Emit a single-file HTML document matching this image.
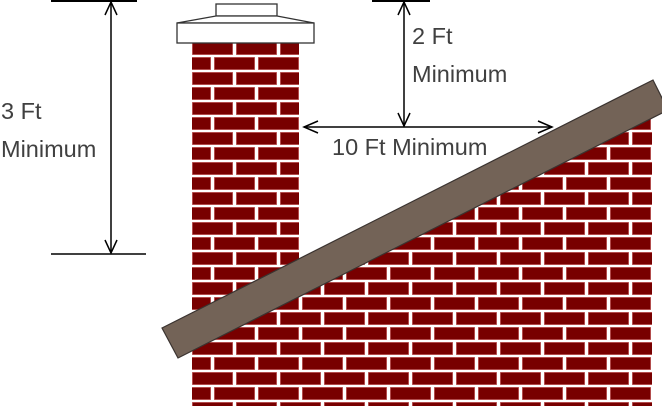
<!DOCTYPE html>
<html><head><style>
html,body{margin:0;padding:0;background:#fff;}
svg{display:block;}
text{font-family:"Liberation Sans",sans-serif;font-size:23.5px;fill:#404040;}
</style></head><body>
<svg width="662" height="406" viewBox="0 0 662 406" xmlns="http://www.w3.org/2000/svg">
<defs>
<pattern id="brick" x="192" y="42" width="44" height="30" patternUnits="userSpaceOnUse">
<rect width="44" height="30" fill="#fff"/>
<rect x="0.5" y="0.5" width="40" height="12" fill="#780000" stroke="#b04040" stroke-width="0.8"/>
<rect x="-21.5" y="15.5" width="40" height="12" fill="#780000" stroke="#b04040" stroke-width="0.8"/>
<rect x="22.5" y="15.5" width="40" height="12" fill="#780000" stroke="#b04040" stroke-width="0.8"/>
</pattern>
</defs>
<polygon points="192,42 299,42 299,262 652,84 652,406 192,406" fill="url(#brick)"/>
<rect x="216" y="4" width="61" height="12" fill="#fff" stroke="#333" stroke-width="1.3"/>
<polygon points="177,23 216,16 277,16 314,23" fill="#fff" stroke="#333" stroke-width="1.3"/>
<rect x="177" y="23" width="137" height="20" fill="#fff" stroke="#333" stroke-width="1.3"/>
<polygon points="162,328 653,80 668,110 178,358" fill="#736357" stroke="#3a3330" stroke-width="1.2"/>
<g stroke="#000" fill="none">
<line x1="51" y1="1" x2="137" y2="1" stroke-width="2"/>
<line x1="372" y1="1" x2="430" y2="1" stroke-width="2"/>
<line x1="51" y1="254" x2="146" y2="254" stroke-width="1.5"/>
<line x1="111" y1="2" x2="111" y2="253" stroke-width="1.5"/>
<polyline points="105,15 111,2 117,15" stroke-width="1.5"/>
<polyline points="105,240 111,253 117,240" stroke-width="1.5"/>
<line x1="404" y1="2" x2="404" y2="126" stroke-width="1.5"/>
<polyline points="398,15 404,2 410,15" stroke-width="1.5"/>
<polyline points="398,113 404,126 410,113" stroke-width="1.5"/>
<line x1="304" y1="127" x2="552" y2="127" stroke-width="1.5"/>
<polyline points="318,121 304,127 318,133" stroke-width="1.5"/>
<polyline points="538,121 552,127 538,133" stroke-width="1.5"/>
</g>
<text x="1" y="119">3 Ft</text>
<text x="1" y="157">Minimum</text>
<text x="412" y="44">2 Ft</text>
<text x="412" y="82">Minimum</text>
<text x="332" y="155">10 Ft Minimum</text>
</svg>
</body></html>
